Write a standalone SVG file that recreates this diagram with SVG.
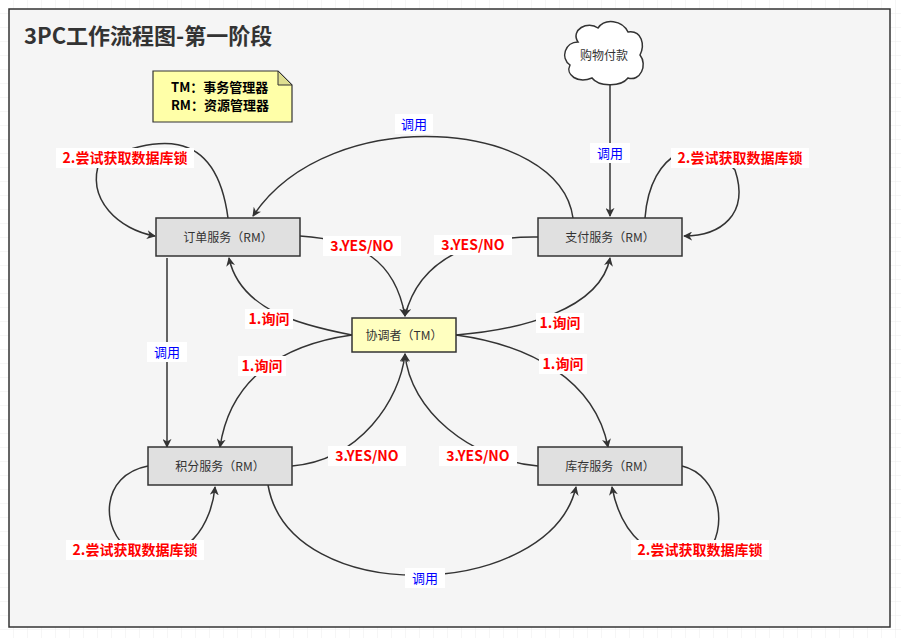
<svg xmlns="http://www.w3.org/2000/svg" width="901" height="638" viewBox="0 0 901 638">
<defs>
<marker id="a" viewBox="0 0 10 10" refX="9" refY="5" markerWidth="9" markerHeight="9" orient="auto" markerUnits="userSpaceOnUse"><path d="M0,0 L10,5 L0,10 L3,5 Z" fill="#333"/></marker>
<pattern id="g" width="14" height="14" patternUnits="userSpaceOnUse"><path d="M14,0 V14 H0" fill="none" stroke="#ececec" stroke-width="1"/></pattern>
</defs>
<style>
.n{fill:#e0e0e0;stroke:#333;stroke-width:1.5}
.t{font-family:"Noto Sans CJK SC",sans-serif;font-size:12px;fill:#333;text-anchor:middle}
.c path{fill:none;stroke:#333;stroke-width:1.5;marker-end:url(#a)}
.lb{fill:#fff}
.r{font-family:"Noto Sans CJK SC",sans-serif;font-size:14px;font-weight:bold;fill:#f00;text-anchor:middle}
.b{font-family:"Noto Sans CJK SC",sans-serif;font-size:13px;fill:#00f;text-anchor:middle}
</style>
<rect width="901" height="638" fill="#fff"/>
<rect width="901" height="638" fill="url(#g)"/>
<rect x="9" y="9" width="881" height="618" fill="#f5f5f5" stroke="#333" stroke-width="1.5"/>
<text x="24" y="44" font-family="Noto Sans CJK SC,sans-serif" font-size="22" font-weight="bold" fill="#333">3PC工作流程图-第一阶段</text>
<g id="note"><path d="M153,71 H278 L292,85 V122 H153 Z" fill="#ffffa8" stroke="#333" stroke-width="1.2"/><path d="M278,71 V85 H292 Z" fill="#dede90" stroke="#333" stroke-width="1"/>
<text x="171" y="92" font-family="Noto Sans CJK SC,sans-serif" font-size="13" font-weight="bold" fill="#000">TM：事务管理器</text>
<text x="171" y="110" font-family="Noto Sans CJK SC,sans-serif" font-size="13" font-weight="bold" fill="#000">RM：资源管理器</text></g>
<g id="cloud"><path d="M578,42 C570,30 588,20 598,28 C605,18 622,20 628,32 C642,30 645,45 640,55 C648,65 640,82 628,78 C620,88 598,86 592,78 C578,84 565,75 570,65 C560,58 565,42 578,42 Z" fill="#fff" stroke="#333" stroke-width="1.5"/><text class="t" x="604" y="60">购物付款</text></g>
<g class="c">
<path d="M610,85 V216"/>
<path d="M573,218 C560,120 330,100 253,216"/>
<path d="M228,218 C215,120 150,140 100,160 C85,200 120,230 155,236"/>
<path d="M645,218 C650,150 700,130 735,170 C750,215 720,236 684,236"/>
<path d="M300,236 C360,240 395,260 405,316"/>
<path d="M538,237 C480,236 420,255 405,316"/>
<path d="M352,335 C300,325 240,310 229,258"/>
<path d="M456,335 C520,330 600,310 610,258"/>
<path d="M352,335 C280,345 230,380 220,447"/>
<path d="M456,335 C530,345 595,380 608,447"/>
<path d="M292,466 C360,460 400,400 405,354"/>
<path d="M538,466 C470,460 410,410 405,354"/>
<path d="M167,258 V447"/>
<path d="M268,485 C290,610 550,600 576,487"/>
<path d="M148,466 C100,475 100,530 130,550 C190,570 212,520 215,487"/>
<path d="M682,466 C720,475 730,530 705,555 C650,570 620,530 612,487"/>
</g>
<g id="labels">
<rect class="lb" x="590" y="143" width="40" height="20"/><text class="b" x="610" y="158">调用</text>
<rect class="lb" x="395" y="114" width="38" height="20"/><text class="b" x="414" y="129">调用</text>
<rect class="lb" x="147" y="342" width="40" height="20"/><text class="b" x="167" y="357">调用</text>
<rect class="lb" x="405" y="568" width="40" height="20"/><text class="b" x="425" y="583">调用</text>
<rect class="lb" x="56" y="148" width="138" height="20"/><text class="r" x="125" y="163">2.尝试获取数据库锁</text>
<rect class="lb" x="671" y="148" width="138" height="20"/><text class="r" x="740" y="163">2.尝试获取数据库锁</text>
<rect class="lb" x="66" y="540" width="138" height="20"/><text class="r" x="135" y="555">2.尝试获取数据库锁</text>
<rect class="lb" x="631" y="540" width="138" height="20"/><text class="r" x="700" y="555">2.尝试获取数据库锁</text>
<rect class="lb" x="323" y="236" width="78" height="20"/><text class="r" x="362" y="251">3.YES/NO</text>
<rect class="lb" x="434" y="235" width="78" height="20"/><text class="r" x="473" y="250">3.YES/NO</text>
<rect class="lb" x="328" y="446" width="78" height="20"/><text class="r" x="367" y="461">3.YES/NO</text>
<rect class="lb" x="439" y="446" width="78" height="20"/><text class="r" x="478" y="461">3.YES/NO</text>
<rect class="lb" x="245" y="309" width="48" height="20"/><text class="r" x="269" y="324">1.询问</text>
<rect class="lb" x="536" y="313" width="48" height="20"/><text class="r" x="560" y="328">1.询问</text>
<rect class="lb" x="238" y="356" width="48" height="20"/><text class="r" x="262" y="371">1.询问</text>
<rect class="lb" x="539" y="354" width="48" height="20"/><text class="r" x="563" y="369">1.询问</text>
</g>
<g id="order"><rect class="n" x="156" y="218" width="144" height="38"/><text class="t" x="228" y="242">订单服务（RM）</text></g>
<g id="pay"><rect class="n" x="538" y="218" width="144" height="38"/><text class="t" x="610" y="242">支付服务（RM）</text></g>
<g id="tm"><rect x="352" y="318" width="104" height="34" fill="#ffffc0" stroke="#333" stroke-width="1.5"/><text class="t" x="404" y="340">协调者（TM）</text></g>
<g id="points"><rect class="n" x="148" y="447" width="144" height="38"/><text class="t" x="220" y="471">积分服务（RM）</text></g>
<g id="stock"><rect class="n" x="538" y="447" width="144" height="38"/><text class="t" x="610" y="471">库存服务（RM）</text></g>
</svg>
